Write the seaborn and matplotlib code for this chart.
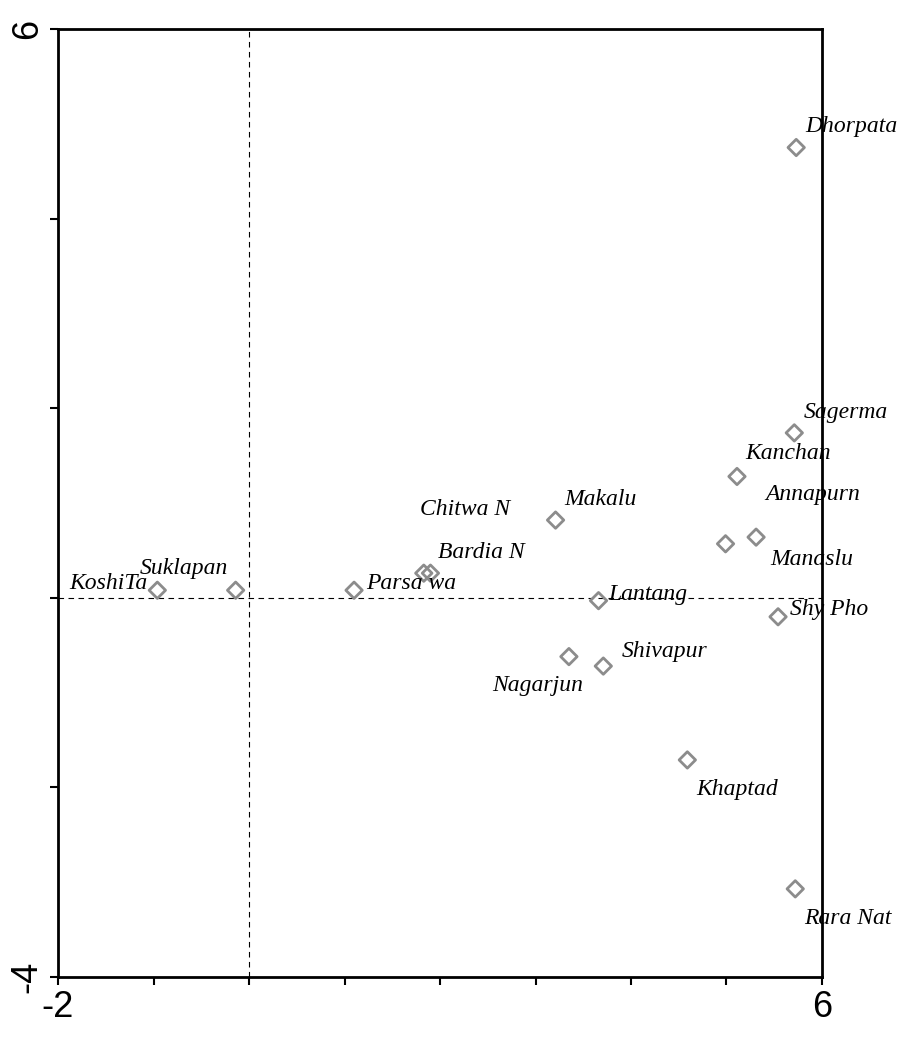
import matplotlib
matplotlib.use("Agg")
import matplotlib.pyplot as plt
import seaborn as sns
import pandas as pd

names = ["Dhorpata","Sagerma","Kanchan","Annapurn","Manaslu","Makalu","Chitwa N","Bardia N",
         "Parsa wa","Suklapan","KoshiTa","Lantang","Shy Pho","Shivapur","Nagarjun","Khaptad","Rara Nat"]
xs = [5.73,5.71,5.11,5.31,4.99,3.21,1.83,1.90,1.10,-0.14,-0.96,3.66,5.54,3.71,3.35,4.59,5.72]
ys = [4.75,1.74,1.28,0.64,0.57,0.82,0.26,0.26,0.08,0.08,0.08,-0.03,-0.20,-0.72,-0.62,-1.71,-3.07]
# label offsets in pixels (dx, dy, horizontal alignment)
offs = [(9,16,"left"),(9,15,"left"),(8,17,"left"),(9,37,"left"),(45,-21,"left"),(9,15,"left"),
        (86,58,"right"),(8,15,"left"),(12,1,"left"),(-8,16,"right"),(-10,1,"right"),(10,1,"left"),
        (12,2,"left"),(18,9,"left"),(14,-34,"right"),(9,-35,"left"),(9,-35,"left")]

df = pd.DataFrame({"x": xs, "y": ys, "name": names})
sns.set_style("white")
fig = plt.figure(figsize=(9.21, 10.59), dpi=100)
ax = fig.add_axes([0.063, 0.0774, 0.8295, 0.8952])
ax.axvline(0, color="black", ls=(0, (5, 4)), lw=0.8, zorder=0)
ax.axhline(0, color="black", ls=(0, (5, 4)), lw=0.8, zorder=0)
sns.scatterplot(data=df, x="x", y="y", marker="D", s=70, facecolor="none",
                edgecolor="#8c8c8c", linewidth=2, ax=ax, zorder=3)
for n, x, y, (dx, dy, ha) in zip(names, xs, ys, offs):
    ax.annotate(n, (x, y), xytext=(dx, dy), textcoords="offset pixels", ha=ha, va="baseline",
                fontsize=17, style="italic", family="Liberation Serif", color="black")
ax.set_xlim(-2, 6)
ax.set_ylim(-4, 6)
ax.set_xticks(range(-2, 7))
ax.set_xticklabels(["-2"] + [""] * 7 + ["6"])
ax.set_yticks(range(-4, 7, 2))
ax.set_yticklabels(["-4", "", "", "", "", "6"])
for lab in ax.get_yticklabels():
    lab.set_rotation(90)
    lab.set_va("center")
ax.tick_params(direction="out", length=6, width=1.5, colors="black", labelsize=26, bottom=True, left=True)
for t in ax.get_xticklabels() + ax.get_yticklabels():
    t.set_family("Liberation Sans")
for s in ax.spines.values():
    s.set_linewidth(2)
    s.set_color("black")
ax.set_xlabel("")
ax.set_ylabel("")
fig.savefig("out.png", dpi=100)
